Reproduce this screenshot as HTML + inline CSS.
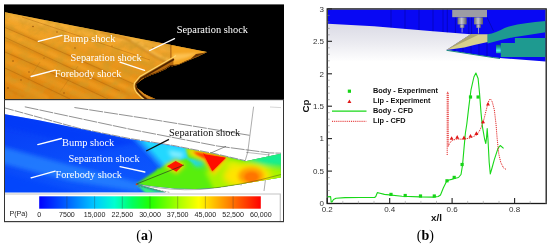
<!DOCTYPE html>
<html><head><meta charset="utf-8"><title>Figure</title>
<style>
html,body{margin:0;padding:0;background:#fff;}
svg{display:block}
.ser{font-family:"Liberation Serif","DejaVu Serif",serif;}
.san{font-family:"Liberation Sans","DejaVu Sans",sans-serif;}
</style></head><body>
<svg width="550" height="247" viewBox="0 0 550 247">
<defs>
<linearGradient id="org" gradientUnits="userSpaceOnUse" x1="100" y1="31" x2="86.7" y2="99.6">
<stop offset="0" stop-color="#f6b848"/><stop offset=".12" stop-color="#f0a42c"/><stop offset=".35" stop-color="#ea981e"/><stop offset=".7" stop-color="#e68e16"/><stop offset="1" stop-color="#e18812"/>
</linearGradient>
<linearGradient id="cbar" x1="0" y1="0" x2="1" y2="0">
<stop offset="0" stop-color="#0000ff"/><stop offset=".125" stop-color="#0060ff"/><stop offset=".25" stop-color="#00c8ff"/><stop offset=".34" stop-color="#00ffd0"/><stop offset=".42" stop-color="#00ff60"/><stop offset=".5" stop-color="#20ff00"/><stop offset=".62" stop-color="#a0ff00"/><stop offset=".72" stop-color="#ffff00"/><stop offset=".84" stop-color="#ff9000"/><stop offset="1" stop-color="#ff0000"/>
</linearGradient>
<linearGradient id="bluebg" x1="0" y1="0" x2="1" y2="1">
<stop offset="0" stop-color="#0638f4"/><stop offset=".5" stop-color="#0a50fc"/><stop offset="1" stop-color="#1060ff"/>
</linearGradient>
<linearGradient id="shockg" gradientUnits="userSpaceOnUse" x1="144" y1="153" x2="150.7" y2="147">
<stop offset="0" stop-color="#0a50fc"/><stop offset=".4" stop-color="#1888ff"/><stop offset="1" stop-color="#20d8ff"/>
</linearGradient>
<linearGradient id="insetbg" gradientUnits="userSpaceOnUse" x1="0" y1="22" x2="0" y2="62">
<stop offset="0" stop-color="#d9d9e4"/><stop offset=".5" stop-color="#eaeaf0"/><stop offset="1" stop-color="#ffffff"/>
</linearGradient>
<linearGradient id="insetfade" x1="0" y1="0" x2="0" y2="1">
<stop offset="0" stop-color="#fff" stop-opacity="0"/><stop offset="1" stop-color="#fff" stop-opacity="1"/>
</linearGradient>
<linearGradient id="cyl" x1="0" y1="0" x2="1" y2="0">
<stop offset="0" stop-color="#6c6c74"/><stop offset=".45" stop-color="#c4c4cc"/><stop offset="1" stop-color="#5c5c64"/>
</linearGradient>
<linearGradient id="cyn" x1="0" y1="0" x2="0" y2="1">
<stop offset="0" stop-color="#106868"/><stop offset=".3" stop-color="#1c9c98"/><stop offset=".7" stop-color="#48ece4"/><stop offset="1" stop-color="#1c9c98"/>
</linearGradient>
<filter id="noise" x="0" y="0" width="100%" height="100%"><feTurbulence type="fractalNoise" baseFrequency="0.09 0.12" numOctaves="3" seed="7" result="t"/><feColorMatrix in="t" type="matrix" values="0 0 0 0 0.62  0 0 0 0 0.32  0 0 0 0 0.02  2.2 0 0 0 -0.85"/></filter>
<filter id="b12" x="-20%" y="-20%" width="140%" height="140%"><feGaussianBlur stdDeviation="1.3"/></filter>
<filter id="b1" x="-20%" y="-20%" width="140%" height="140%"><feGaussianBlur stdDeviation="1"/></filter>
<filter id="b2" x="-20%" y="-20%" width="140%" height="140%"><feGaussianBlur stdDeviation="2"/></filter>
<filter id="b3" x="-30%" y="-30%" width="160%" height="160%"><feGaussianBlur stdDeviation="3.2"/></filter>
<filter id="b05" x="-20%" y="-20%" width="140%" height="140%"><feGaussianBlur stdDeviation="0.5"/></filter>
<clipPath id="flowclip"><path d="M5,114.3 L40,120.6 L130,139.2 L172.7,146 L215,154.3 L245.3,161.3 L280.8,153.7 L280.8,177.4 L250,182.4 L235,185 L215,188.1 L195,189.1 L175,188.4 L155,186.4 L136.3,184.1 L163.3,191.4 L166,192.6 L5,192.6 Z"/></clipPath>
<clipPath id="orgclip"><path d="M5,12.3 L207,52 L197.5,56.7 L186.5,61.2 L178.7,64.8 L172.3,66.3 L170.3,66 L165,69.5 L157.4,72.8 L150,75.5 L144.4,78 L140,81 L136,84.2 Q136,87 137.9,88.7 L144.4,93.9 L150.9,97.1 L156,99.2 L5,99.2 Z"/></clipPath>
</defs>
<rect width="550" height="247" fill="#fff"/>

<!-- ========== (a) top: schlieren photo ========== -->
<rect x="4" y="4.4" width="280" height="94.8" fill="#000"/>
<g clip-path="url(#orgclip)">
<rect x="4" y="4" width="210" height="96" fill="url(#org)"/>
<g filter="url(#b1)" fill="none">
<path d="M5,13.5 L207,53" stroke="#f8aa28" stroke-width="3" stroke-opacity=".6"/>
<path d="M5,20 L60,45 L136,82" stroke="#f6a624" stroke-width="5" stroke-opacity=".45"/>
<path d="M5,26 L77,59 L136,86" stroke="#b8680c" stroke-width="1.2" stroke-opacity=".6"/>
<path d="M5,33 L136,92" stroke="#f9ae2e" stroke-width="4" stroke-opacity=".4"/>
<path d="M5,39.6 L50,59 L130,95" stroke="#b8680c" stroke-width="1.2" stroke-opacity=".55"/>
<path d="M5,46 L125,99" stroke="#f8aa28" stroke-width="5" stroke-opacity=".4"/>
<path d="M5,52 L46,70 L110,99" stroke="#b8680c" stroke-width="1.2" stroke-opacity=".55"/>
<path d="M5,60 L90,99" stroke="#f6a624" stroke-width="6" stroke-opacity=".4"/>
<path d="M5,68 L70,99" stroke="#bc6c0e" stroke-width="1.2" stroke-opacity=".5"/>
<path d="M5,78 L48,99" stroke="#f5a422" stroke-width="6" stroke-opacity=".4"/>
<path d="M5,88 L28,99" stroke="#bc6c0e" stroke-width="1.2" stroke-opacity=".5"/>
<path d="M60,24 L150,62" stroke="#f9ae2e" stroke-width="4" stroke-opacity=".4"/>
<path d="M100,32 L125,38 L154,55.7 L168,63" stroke="#a85c08" stroke-width="1.6" stroke-opacity=".65"/>
<path d="M132,40 L160,57 L172,61" stroke="#fac65a" stroke-width="3" stroke-opacity=".55"/>
<path d="M150,41 L200,51" stroke="#cc7c14" stroke-width="3" stroke-opacity=".5"/>
<path d="M172,50 L200,55" stroke="#fbc85c" stroke-width="4" stroke-opacity=".6"/>
</g>
<rect x="4" y="4" width="210" height="96" filter="url(#noise)" opacity=".8"/>
<g stroke="#a85c08" stroke-width=".7" stroke-opacity=".55" fill="none">
<path d="M5,27.5 L36.5,41 L100,69 L136,85"/><path d="M5,37.4 L51,59 L120,91"/><path d="M5,52 L46,70 L108,99"/><path d="M5,68 L70,99"/><path d="M22,17 L100,43 L150,60"/><path d="M60,92 L78,66" stroke-opacity=".3"/><path d="M28,80 L40,62" stroke-opacity=".3"/>
</g>
<g fill="#7a3a06" fill-opacity=".7">
<circle cx="33" cy="26.5" r=".8"/><circle cx="57" cy="32" r=".7"/><circle cx="75" cy="48" r=".7"/><circle cx="13" cy="61" r=".8"/><circle cx="29" cy="72" r=".7"/><circle cx="21" cy="80" r=".7"/><circle cx="64" cy="93" r=".7"/><circle cx="97" cy="40" r=".6"/><circle cx="122" cy="55" r=".7"/><circle cx="112" cy="46" r=".6"/><circle cx="8" cy="88" r=".8"/><circle cx="44" cy="58" r=".6"/><circle cx="153" cy="48" r=".7"/><circle cx="86" cy="72" r=".6"/>
</g>
<!-- lip structure -->
<path d="M171,45 V66" stroke="#a85c0c" stroke-width="1.2" fill="none"/>
<path d="M171.5,45.5 L207,52.3 L186,61.5 L172,66.5 Z" fill="#f4a624"/>
<path d="M173,54 L198,53 L186,58 L173,61 Z" fill="#fcc050" filter="url(#b1)"/>
<path d="M173.4,57.2 L140,76.4 L134.5,83 Q133,88 136.5,92.5 L141.8,97.8 L146,101 L160,101 L160,72 L173.4,66 Z" fill="#b4680e"/>
<path d="M174,59.3 L141,78.3 L136.5,83.6 Q135.5,88 138.5,92 L143.5,97 L148,100.5" stroke="#4e2404" stroke-width="1.6" fill="none" filter="url(#b05)"/>
<path d="M139,85 Q138.5,89 142,92.5 L147,96.5 L153,100" stroke="#d88c20" stroke-width="2" fill="none" filter="url(#b05)"/>
<path d="M207,53.3 L197.5,57.6 L186.5,62 L178.7,65.6 L170.3,66.5 L165,70 L157.4,73.4 L150,76 L144.4,78.5" stroke="#5a2c04" stroke-width="2.6" fill="none" filter="url(#b05)"/>
<path d="M176,55.5 L173.4,57.2 L140,76.4 L134.5,83 Q133,88 136.5,92.5 L141.8,97.8 L146,101" stroke="#ffd66a" stroke-width="1.2" fill="none" filter="url(#b05)"/>
<path d="M196,54 L206,52.6 L190,59.5 Z" fill="#6a3406"/>
</g>
<g class="ser" font-size="10.4" fill="#fff">
<text x="63.2" y="42">Bump shock</text>
<text x="70.5" y="60.6">Separation shock</text>
<text x="54.8" y="77">Forebody shock</text>
<text x="176.7" y="32.5">Separation shock</text>
</g>
<g stroke="#fff" stroke-width="1.3" stroke-linecap="round">
<line x1="38.3" y1="41.3" x2="62" y2="35.3"/>
<line x1="31.1" y1="76.5" x2="55.2" y2="70.2"/>
<line x1="120" y1="62.2" x2="144.6" y2="70.4"/>
<line x1="149.7" y1="50.5" x2="174.5" y2="38.6"/>
</g>

<!-- ========== (a) bottom: CFD ========== -->
<rect x="4.5" y="99.6" width="279" height="122" fill="#fff" stroke="#333" stroke-width="1"/>
<!-- geometry lines -->
<g stroke="#3a3a3a" stroke-width=".7" fill="none" stroke-opacity=".8">
<path d="M5,108 L80,128.6 L130,138.6 L172.7,145.4 L215,153.7 L245,160.6" stroke-dasharray="9 1"/>
<path d="M24.8,106.8 L130,129.2 L217.3,146 L269.6,152.9 L281,153.2" stroke-dasharray="14 1"/>
<path d="M74.4,107.5 L150,119.1 L249.5,135.3" stroke-dasharray="14 1"/>
<path d="M253.6,106.7 L247.8,151.8 L245,161.4 L241,185.5" stroke-opacity=".6"/>
<path d="M270,107 L281,107.6" stroke-opacity=".3"/>
<path d="M268.9,153.4 L264,191" stroke-opacity=".6"/>
<path d="M184,165 L226,146.3"/>
<path d="M246,152.3 L269.7,155" stroke-opacity=".5"/>
</g>
<g clip-path="url(#flowclip)">
<rect x="4" y="100" width="280" height="95" fill="url(#bluebg)"/>
<g filter="url(#b2)">
<path d="M0,112 L140,142 L100,150 L0,126 Z" fill="#0038f8" fill-opacity=".7"/>
<path d="M0,146 L70,165 L140,183 L140,192 L70,181 L0,163 Z" fill="#2684ff" fill-opacity=".8"/>
<path d="M0,172 L90,195 L0,195 Z" fill="#0844fc" fill-opacity=".7"/>
</g>
<g filter="url(#b12)">
<!-- green region -->
<path d="M136.3,184.1 L156.5,170.3 L162,160 L186,147 L245,159 L290,150 L290,200 L166,193 Z" fill="#58ee08"/>
<path d="M183,146 L215,152 L212,160 L200,159 L188,157 Z" fill="#70ee08"/>
</g>
<g filter="url(#b12)">
<!-- cyan region behind separation shock -->
<path d="M128.6,137 L186,147 L188,158 L196,160 L198,166 L186,158.5 L167,164.5 L158.5,169 Z" fill="url(#shockg)"/>
</g>
<g filter="url(#b2)">
<path d="M168,150 L184,153 L182,158 L171,156.5 Z" fill="#8af0ff"/>
<path d="M205,172 L226,160 L245,162 L285,170 L285,195 L215,192 Z" fill="#a8f400"/>
<ellipse cx="198.5" cy="162.8" rx="5" ry="3.4" fill="#30c8ff"/>
<ellipse cx="199" cy="163" rx="8" ry="5" fill="#20e8b0" fill-opacity=".5"/>
<path d="M246,160 L285,150 L285,166 L262,165 Z" fill="#18ee90"/>
</g>
<g filter="url(#b3)">
<ellipse cx="247" cy="176" rx="24" ry="12" fill="#ffe400"/>
<ellipse cx="232" cy="164" rx="7" ry="3.5" fill="#e0f000"/>
</g>
<g filter="url(#b2)">
<ellipse cx="251" cy="176" rx="12.5" ry="8.5" fill="#ff9800"/>
<path d="M166,166 L176,160.5 L183.5,165.5 L176.5,172.5 Z" fill="#ffd800" stroke="#ffd800" stroke-width="2.5"/>
<path d="M188,150 L206,152 L228,157 L214,174 L204,160 L192,155 Z" fill="#ffd800" stroke="#ffd800" stroke-width="2"/>
</g>
<g filter="url(#b1)">
<ellipse cx="251.5" cy="177" rx="7" ry="5" fill="#ff7400"/>
<path d="M193,151.5 L206,153.4 L226,157.6 L212.3,171.8 L205,159 L197,155 Z" fill="#ff4000"/>
</g>
<path d="M203,153 L205,154.4 L226,157.8 L212.3,171 Z" fill="#ff0800" filter="url(#b05)"/>
<path d="M166.9,166.2 L175.6,161 L183.2,165.1 L176.4,171.8 Z" fill="#ff1400" filter="url(#b05)"/>
<!-- lower cyan/green near lip on outside -->
<path d="M136.4,184.3 L164,193.5 L146,194 Z" fill="#30f080" filter="url(#b1)"/>
</g>
<!-- cowl geometry lines -->
<g stroke="#222" stroke-width=".6" fill="none">
<path d="M136.3,184.1 L184,165"/>
<path d="M136.4,184.3 Q170,191 200,189.5 Q240,186 281,174.5" stroke-opacity=".6"/>
<path d="M138,186 L170,192.5" stroke-dasharray="2 1" stroke="#666"/>
</g>
<circle cx="136.6" cy="184.3" r="0.9" fill="#f03010"/>
<!-- labels -->
<g class="ser" font-size="10.4" fill="#fff">
<text x="62" y="146">Bump shock</text>
<text x="68.4" y="162.4">Separation shock</text>
<text x="55.4" y="178.3">Forebody shock</text>
</g>
<text class="ser" font-size="10.4" fill="#111" x="169" y="136.4">Separation shock</text>
<g stroke="#fff" stroke-width="1.3" stroke-linecap="round">
<line x1="37.8" y1="144.7" x2="61.5" y2="138.5"/>
<line x1="31.1" y1="177.8" x2="55.2" y2="171.2"/>
<line x1="120" y1="166.6" x2="144.8" y2="172"/>
</g>
<line x1="146.2" y1="151" x2="169" y2="139.4" stroke="#111" stroke-width="1.3"/>
<!-- legend strip -->
<rect x="5" y="192.8" width="278" height="28.6" fill="#fff"/>
<path d="M5,194 H280.3 V221" stroke="#c4c4c4" stroke-width="1.2" fill="none"/>
<rect x="39.2" y="196.3" width="221.6" height="12.4" fill="url(#cbar)"/>
<line x1="66.9" x2="66.9" y1="196.3" y2="208.7" stroke="#333" stroke-opacity=".55" stroke-width=".6"/><line x1="94.6" x2="94.6" y1="196.3" y2="208.7" stroke="#333" stroke-opacity=".55" stroke-width=".6"/><line x1="122.3" x2="122.3" y1="196.3" y2="208.7" stroke="#333" stroke-opacity=".55" stroke-width=".6"/><line x1="150.0" x2="150.0" y1="196.3" y2="208.7" stroke="#333" stroke-opacity=".55" stroke-width=".6"/><line x1="177.7" x2="177.7" y1="196.3" y2="208.7" stroke="#333" stroke-opacity=".55" stroke-width=".6"/><line x1="205.4" x2="205.4" y1="196.3" y2="208.7" stroke="#333" stroke-opacity=".55" stroke-width=".6"/><line x1="233.1" x2="233.1" y1="196.3" y2="208.7" stroke="#333" stroke-opacity=".55" stroke-width=".6"/>
<g class="san" font-size="7.1" fill="#222"><text x="39.2" y="216.8" text-anchor="middle">0</text><text x="66.9" y="216.8" text-anchor="middle">7500</text><text x="94.6" y="216.8" text-anchor="middle">15,000</text><text x="122.3" y="216.8" text-anchor="middle">22,500</text><text x="150.0" y="216.8" text-anchor="middle">30,000</text><text x="177.7" y="216.8" text-anchor="middle">37,500</text><text x="205.4" y="216.8" text-anchor="middle">45,000</text><text x="233.1" y="216.8" text-anchor="middle">52,500</text><text x="260.8" y="216.8" text-anchor="middle">60,000</text></g>
<text class="san" font-size="8" fill="#222" x="9.5" y="216.4" textLength="18.2" lengthAdjust="spacingAndGlyphs">P(Pa)</text>
<rect x="4.5" y="99.6" width="279" height="122" fill="none" stroke="#333" stroke-width="1"/>
<text class="ser" font-size="14" x="144.4" y="239.6" text-anchor="middle">(<tspan font-weight="bold">a</tspan>)</text>

<!-- ========== (b) plot ========== -->
<!-- inset -->
<rect x="328" y="9.5" width="217.6" height="52" fill="url(#insetbg)"/>

<path d="M328,9.5 H545.6 V61.5 L493.5,57.6 L446.5,50.1 L470.6,34.3 L430,31.1 L374,26.3 L328,23.7 Z" fill="#0808f4"/>
<g stroke="#000060" stroke-width=".5" stroke-opacity=".7" fill="none">
<path d="M391,9.5 V27.5 M405,9.5 V28.7 M419,9.5 V30 M433,9.5 V31.2 M443,9.5 V32 M447.3,9.5 V32.4 M455.4,17 V33 M468.8,17 V34 M471.6,17 V34 M487,17.2 L493.5,31"/>
<path d="M455,49 V51.6 M463,47.5 V52.8 M471,46 V54 M479,44 V55.2 M487,42 V56.5"/>
</g>
<rect x="452.2" y="9.9" width="34.8" height="7.3" fill="#9c9ca4"/>
<rect x="457.5" y="17.4" width="9.2" height="7" fill="url(#cyl)"/>
<rect x="474" y="17.4" width="9" height="7" fill="url(#cyl)"/>
<rect x="459.8" y="24.4" width="4.6" height="3.4" fill="url(#cyl)"/>
<rect x="476.2" y="24.4" width="4.6" height="3.4" fill="url(#cyl)"/>
<path d="M462.1,27.8 V32.5 M478.5,27.8 V33.5" stroke="#b8b8c0" stroke-width=".8"/>
<!-- ramp -->
<path d="M446.5,50.1 L470.8,34.3 L487.8,34.3 L487.8,42 Q476,44.5 464.3,47.4 Z" fill="#d6d08e"/>
<path d="M446.5,50.1 L470.8,34.3 L479.6,34.3 Z" fill="#aca672"/>
<!-- teal cowl -->
<path d="M487.5,34.3 Q496,33 504.6,28 Q519,23 545.6,21 V32.2 L525,35.4 L514.9,36.9 L509.4,38 L500.8,40.1 L492.3,42.3 L487.5,43.4 Z" fill="#1e9a90"/>
<path d="M500.8,42.9 H514.9 V38.1 H545.6 V57 H500.8 Z" fill="#1e9a90"/>
<rect x="496.1" y="44.8" width="4.7" height="8.4" fill="url(#cyn)"/>
<path d="M446.5,50.3 L493.5,57.6 L500,58.5" stroke="#1e8a80" stroke-width="1" fill="none"/>
<!-- frame -->
<rect x="327.2" y="8.9" width="219" height="194.6" fill="none" stroke="#1a1a1a" stroke-width="1.3"/>
<line x1="327.5" x2="332.0" y1="203.5" y2="203.5" stroke="#222" stroke-width="1.1"/><line x1="327.5" x2="329.7" y1="197.0" y2="197.0" stroke="#777" stroke-width="0.6"/><line x1="327.5" x2="329.7" y1="190.5" y2="190.5" stroke="#777" stroke-width="0.6"/><line x1="327.5" x2="329.7" y1="184.0" y2="184.0" stroke="#777" stroke-width="0.6"/><line x1="327.5" x2="329.7" y1="177.6" y2="177.6" stroke="#777" stroke-width="0.6"/><line x1="327.5" x2="332.0" y1="171.1" y2="171.1" stroke="#222" stroke-width="1.1"/><line x1="327.5" x2="329.7" y1="164.6" y2="164.6" stroke="#777" stroke-width="0.6"/><line x1="327.5" x2="329.7" y1="158.1" y2="158.1" stroke="#777" stroke-width="0.6"/><line x1="327.5" x2="329.7" y1="151.6" y2="151.6" stroke="#777" stroke-width="0.6"/><line x1="327.5" x2="329.7" y1="145.1" y2="145.1" stroke="#777" stroke-width="0.6"/><line x1="327.5" x2="332.0" y1="138.6" y2="138.6" stroke="#222" stroke-width="1.1"/><line x1="327.5" x2="329.7" y1="132.1" y2="132.1" stroke="#777" stroke-width="0.6"/><line x1="327.5" x2="329.7" y1="125.7" y2="125.7" stroke="#777" stroke-width="0.6"/><line x1="327.5" x2="329.7" y1="119.2" y2="119.2" stroke="#777" stroke-width="0.6"/><line x1="327.5" x2="329.7" y1="112.7" y2="112.7" stroke="#777" stroke-width="0.6"/><line x1="327.5" x2="332.0" y1="106.2" y2="106.2" stroke="#222" stroke-width="1.1"/><line x1="327.5" x2="329.7" y1="99.7" y2="99.7" stroke="#777" stroke-width="0.6"/><line x1="327.5" x2="329.7" y1="93.2" y2="93.2" stroke="#777" stroke-width="0.6"/><line x1="327.5" x2="329.7" y1="86.7" y2="86.7" stroke="#777" stroke-width="0.6"/><line x1="327.5" x2="329.7" y1="80.2" y2="80.2" stroke="#777" stroke-width="0.6"/><line x1="327.5" x2="332.0" y1="73.8" y2="73.8" stroke="#222" stroke-width="1.1"/><line x1="327.5" x2="329.7" y1="67.3" y2="67.3" stroke="#777" stroke-width="0.6"/><line x1="327.5" x2="329.7" y1="60.8" y2="60.8" stroke="#777" stroke-width="0.6"/><line x1="327.5" x2="329.7" y1="54.3" y2="54.3" stroke="#777" stroke-width="0.6"/><line x1="327.5" x2="329.7" y1="47.8" y2="47.8" stroke="#777" stroke-width="0.6"/><line x1="327.5" x2="332.0" y1="41.3" y2="41.3" stroke="#222" stroke-width="1.1"/><line x1="327.5" x2="329.7" y1="34.8" y2="34.8" stroke="#777" stroke-width="0.6"/><line x1="327.5" x2="329.7" y1="28.4" y2="28.4" stroke="#777" stroke-width="0.6"/><line x1="327.5" x2="329.7" y1="21.9" y2="21.9" stroke="#777" stroke-width="0.6"/><line x1="327.5" x2="329.7" y1="15.4" y2="15.4" stroke="#777" stroke-width="0.6"/><line x1="327.5" x2="332.0" y1="8.9" y2="8.9" stroke="#222" stroke-width="1.1"/><line y1="203.5" y2="198.1" x1="327.2" x2="327.2" stroke="#222" stroke-width="1.1"/><line y1="203.5" y2="200.9" x1="342.8" x2="342.8" stroke="#999" stroke-width="0.6"/><line y1="203.5" y2="200.9" x1="358.4" x2="358.4" stroke="#999" stroke-width="0.6"/><line y1="203.5" y2="200.9" x1="374.0" x2="374.0" stroke="#999" stroke-width="0.6"/><line y1="203.5" y2="198.1" x1="389.7" x2="389.7" stroke="#222" stroke-width="1.1"/><line y1="203.5" y2="200.9" x1="405.3" x2="405.3" stroke="#999" stroke-width="0.6"/><line y1="203.5" y2="200.9" x1="420.9" x2="420.9" stroke="#999" stroke-width="0.6"/><line y1="203.5" y2="200.9" x1="436.5" x2="436.5" stroke="#999" stroke-width="0.6"/><line y1="203.5" y2="198.1" x1="452.1" x2="452.1" stroke="#222" stroke-width="1.1"/><line y1="203.5" y2="200.9" x1="467.7" x2="467.7" stroke="#999" stroke-width="0.6"/><line y1="203.5" y2="200.9" x1="483.3" x2="483.3" stroke="#999" stroke-width="0.6"/><line y1="203.5" y2="200.9" x1="499.0" x2="499.0" stroke="#999" stroke-width="0.6"/><line y1="203.5" y2="198.1" x1="514.6" x2="514.6" stroke="#222" stroke-width="1.1"/><line y1="203.5" y2="200.9" x1="530.2" x2="530.2" stroke="#999" stroke-width="0.6"/><line y1="203.5" y2="200.9" x1="545.8" x2="545.8" stroke="#999" stroke-width="0.6"/>
<g class="san" font-size="8" fill="#333"><text x="324" y="11.7" text-anchor="end">3</text><text x="324" y="44.1" text-anchor="end">2.5</text><text x="324" y="76.6" text-anchor="end">2</text><text x="324" y="109.0" text-anchor="end">1.5</text><text x="324" y="141.4" text-anchor="end">1</text><text x="324" y="173.9" text-anchor="end">0.5</text><text x="324" y="206" text-anchor="end">0</text><text x="327.2" y="212.2" text-anchor="middle">0.2</text><text x="389.7" y="212.2" text-anchor="middle">0.4</text><text x="452.1" y="212.2" text-anchor="middle">0.6</text><text x="514.6" y="212.2" text-anchor="middle">0.8</text></g>
<text class="san" font-size="9.8" font-weight="bold" fill="#111" x="436.5" y="221.3" text-anchor="middle">x/l</text>
<text class="san" font-size="9.8" font-weight="bold" fill="#111" transform="translate(309.2,106) rotate(-90)" text-anchor="middle">Cp</text>
<!-- curves -->
<path d="M327.5,196.8 L330.6,196.6 L331.2,202.0 L332.0,202.0 L333.5,199.5 L336.0,198.3 L345.0,197.6 L360.0,197.5 L374.6,197.5 L375.8,196.5 L377.3,192.6 L379.0,193.0 L384.4,194.4 L402.0,196.2 L420.0,196.9 L433.5,197.1 L438.2,196.5 L440.5,195.0 L443.3,188.0 L446.5,181.4 L449.0,180.0 L451.6,179.4 L455.4,178.3 L458.5,177.5 L461.0,174.5 L462.5,165.4 L464.0,148.4 L465.4,133.0 L466.8,124.0 L468.8,106.9 L471.0,89.8 L473.9,77.0 L475.9,73.0 L478.1,78.5 L479.5,92.7 L481.0,112.5 L482.4,126.7 L484.6,139.0 L485.8,143.5 L486.5,138.0 L487.2,128.5 L488.0,139.8 L489.2,162.5 L490.3,173.9 L492.0,168.0 L494.3,159.7 L498.0,148.4 L500.2,145.5 L503.6,148.4" fill="none" stroke="#18d818" stroke-width="1.1" stroke-linejoin="round"/>
<path d="M447.2,155.0 L447.2,92.3 L448.2,92.3 L448.2,146.5 L449.5,143.5 L451.8,140.5 L456.9,139.0 L464.0,139.3 L470.5,137.8 L476.7,135.0 L480.0,130.0 L483.0,123.0 L486.0,111.0 L488.0,103.0 L489.5,99.5 L491.0,99.5 L492.3,102.0 L494.3,109.7 L496.0,124.0 L497.1,138.0 L498.8,154.0 L500.8,162.5 L503.6,168.0 L506.5,169.6" fill="none" stroke="#e01818" stroke-width="1" stroke-dasharray="1 0.9" stroke-linejoin="round"/>
<rect x="389.4" y="192.8" width="3.2" height="3.2" fill="#16d416"/><rect x="403.6" y="193.9" width="3.2" height="3.2" fill="#16d416"/><rect x="418.9" y="194.4" width="3.2" height="3.2" fill="#16d416"/><rect x="432.7" y="194.4" width="3.2" height="3.2" fill="#16d416"/><rect x="445.4" y="179.2" width="3.2" height="3.2" fill="#16d416"/><rect x="452.6" y="175.8" width="3.2" height="3.2" fill="#16d416"/><rect x="460.5" y="162.9" width="3.2" height="3.2" fill="#16d416"/><rect x="468.9" y="95.4" width="3.2" height="3.2" fill="#16d416"/><rect x="476.5" y="95.4" width="3.2" height="3.2" fill="#16d416"/><path d="M451.6,136.2 l2,3.6 h-4 z" fill="#e01818"/><path d="M457.2,135.1 l2,3.6 h-4 z" fill="#e01818"/><path d="M464.0,135.6 l2,3.6 h-4 z" fill="#e01818"/><path d="M470.5,134.0 l2,3.6 h-4 z" fill="#e01818"/><path d="M476.4,131.3 l2,3.6 h-4 z" fill="#e01818"/><path d="M483.0,119.7 l2,3.6 h-4 z" fill="#e01818"/><path d="M488.0,102.0 l2,3.6 h-4 z" fill="#e01818"/>
<!-- legend -->
<rect x="347.8" y="89.6" width="3.2" height="3.2" fill="#16d416"/>
<path d="M349.4,99.4 l2,3.6 h-4 z" fill="#e01818"/>
<line x1="332" x2="366.5" y1="111.1" y2="111.1" stroke="#18d818" stroke-width="1.1"/>
<line x1="332" x2="366.5" y1="121.3" y2="121.3" stroke="#e01818" stroke-width="1" stroke-dasharray="1 0.9"/>
<g class="san" font-size="7.8" font-weight="bold" fill="#111" transform="translate(372.9,0) scale(0.945,1)">
<text x="0" y="93.3">Body - Experiment</text>
<text x="0" y="103.5">Lip - Experiment</text>
<text x="0" y="113.3">Body - CFD</text>
<text x="0" y="123.4">Lip - CFD</text>
</g>
<text class="ser" font-size="14" x="425.4" y="239.8" text-anchor="middle">(<tspan font-weight="bold">b</tspan>)</text>
</svg>
</body></html>
